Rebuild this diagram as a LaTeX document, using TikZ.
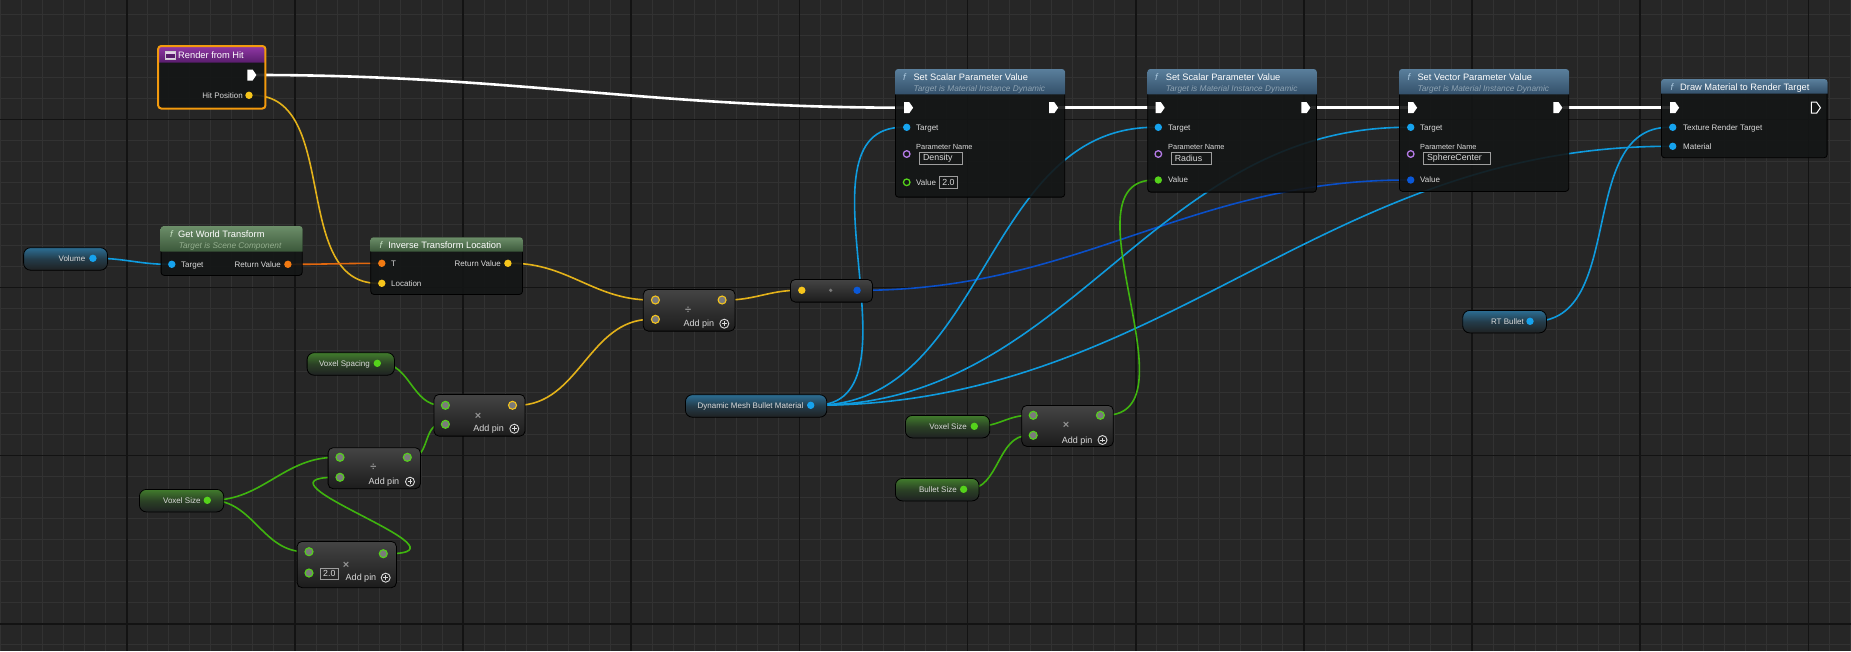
\documentclass[tikz,border=0pt]{standalone}
\usepackage{fontspec}
\setmainfont{Liberation Sans}
\usetikzlibrary{positioning,shapes.symbols}

\definecolor{canvas}{HTML}{262626}
\definecolor{gridminor}{HTML}{323232}
\definecolor{gridmajor}{HTML}{131313}
\definecolor{bodyfill}{HTML}{141616}
\definecolor{hdrbluetop}{HTML}{5A7F9C}
\definecolor{hdrbluebot}{HTML}{33506A}
\definecolor{hdrgreentop}{HTML}{6C8E69}
\definecolor{hdrgreenbot}{HTML}{3B583A}
\definecolor{hdrpurpletop}{HTML}{9138A6}
\definecolor{hdrpurplebot}{HTML}{581C6C}
\definecolor{selorange}{HTML}{F29A0E}
\definecolor{subblue}{HTML}{8EA3B3}
\definecolor{subgreen}{HTML}{93AE8E}
\definecolor{fnblue}{HTML}{A9C6DC}
\definecolor{fngreen}{HTML}{C2DCBE}
\definecolor{lblgray}{HTML}{DADADA}
\definecolor{pinobj}{HTML}{16A3EE}
\definecolor{pinvec}{HTML}{F6C51C}
\definecolor{pintrans}{HTML}{F27A12}
\definecolor{pinfloat}{HTML}{55D21B}
\definecolor{pinstruct}{HTML}{0A58D8}
\definecolor{pinname}{HTML}{B47AE6}
\definecolor{pingray}{HTML}{7B7B7B}
\definecolor{mathtop}{HTML}{444444}
\definecolor{mathbot}{HTML}{1C1C1C}
\definecolor{pillbase}{HTML}{1F2122}
\definecolor{glowblue}{HTML}{2C6E94}
\definecolor{glowgreen}{HTML}{417C2C}
\definecolor{wireobj}{HTML}{0F9BDE}
\definecolor{wirevec}{HTML}{E3B21A}
\definecolor{wiretrans}{HTML}{E3680E}
\definecolor{wirefloat}{HTML}{3FB40F}
\definecolor{wirestruct}{HTML}{0A4FC8}

\pgfdeclarelayer{gridlayer}
\pgfdeclarelayer{wirelayer}
\pgfsetlayers{gridlayer,wirelayer,main}

\tikzset{
  fnbody/.style={draw=black, line width=0.8pt, fill=bodyfill, fill opacity=0.9, rounded corners=3pt, anchor=north west, inner sep=0pt},
  hdrblue/.style={top color=hdrbluetop, bottom color=hdrbluebot},
  hdrgreen/.style={top color=hdrgreentop, bottom color=hdrgreenbot},
  hdrpurple/.style={top color=hdrpurpletop, bottom color=hdrpurplebot},
  ntitle/.style={font=\fontsize{9.3}{10}\selectfont, text=white, anchor=west, inner sep=0pt, text height=6.7pt, text depth=0pt},
  nsub/.style={font=\fontsize{8.3}{9}\selectfont\itshape, text=#1, anchor=west, inner sep=0pt, text height=6pt, text depth=0pt},
  fnicon/.style={font=\fontsize{9.5}{10}\selectfont\itshape, text=#1, inner sep=0pt},
  plbl/.style={font=\fontsize{8}{9}\selectfont, text=lblgray, inner sep=0pt, text height=5.8pt, text depth=0pt},
  ptiny/.style={font=\fontsize{7.4}{8}\selectfont, text=lblgray, inner sep=0pt, anchor=west, text height=5.3pt, text depth=0pt},
  namebox/.style={draw=white!62!black, line width=0.6pt, font=\fontsize{8.8}{9}\selectfont, text=lblgray, inner xsep=3.5pt, inner ysep=0pt, minimum height=11.6pt, anchor=west, text width=#1, align=left},
  valbox/.style={draw=white!62!black, line width=0.6pt, font=\fontsize{8.8}{9}\selectfont, text=lblgray, inner xsep=0pt, inner ysep=0pt, minimum height=11.6pt, minimum width=#1},
  varpill/.style={draw=black, line width=0.8pt, rounded corners=7pt, anchor=north west, inner sep=0pt, minimum height=22.5pt, top color=#1, bottom color=pillbase, middle color=pillbase!65!#1},
  mathbody/.style={draw=black, line width=0.8pt, rounded corners=5pt, anchor=north west, inner sep=0pt, top color=mathtop, bottom color=mathbot},
  datapin/.style={circle, fill=#1, inner sep=0pt, minimum size=7.4pt},
  openpin/.style={circle, draw=#1, line width=1.3pt, inner sep=0pt, minimum size=6.6pt},
  mathpin/.style={circle, fill=pingray, draw=#1, line width=1.1pt, inner sep=0pt, minimum size=8pt},
  execpin/.style={signal, signal to=east, signal pointer angle=110, fill=white, inner sep=0pt, minimum width=9pt, minimum height=11pt},
  execopen/.style={execpin, fill=none, draw=white, line width=1pt},
  opglyph/.style={font=\fontsize{11}{11}\selectfont\bfseries, text=white!58!black, inner sep=0pt},
  addlbl/.style={font=\fontsize{9}{10}\selectfont, text=lblgray, inner sep=0pt, text height=6.5pt, text depth=0pt},
  addicon/.style={circle, draw=lblgray, line width=0.9pt, inner sep=0pt, minimum size=9pt,
    path picture={\draw[lblgray, line width=0.8pt]
      ([xshift=-2.3pt]path picture bounding box.center) -- ([xshift=2.3pt]path picture bounding box.center)
      ([yshift=-2.3pt]path picture bounding box.center) -- ([yshift=2.3pt]path picture bounding box.center);}},
  wire/.style={line width=1.6pt, draw=#1},
  execwire/.style={line width=2.6pt, draw=white},
}

\begin{document}
\begin{tikzpicture}[x=1pt,y=-1pt]
  \useasboundingbox (0,0) rectangle (1851,651);

  % Griglia di sfondo
  \begin{pgfonlayer}{gridlayer}
    \fill[canvas] (0,0) rectangle (1851,651);
    \foreach \k in {0,...,88} \draw[gridminor, line width=0.9pt] ({0.68+21.02*\k},0) -- ({0.68+21.02*\k},651);
    \foreach \k in {0,...,30} \draw[gridminor, line width=0.9pt] (0,{14.2+21.02*\k}) -- (1851,{14.2+21.02*\k});
    \foreach \k in {1,...,11} \draw[gridmajor, line width=1.6pt] ({-41.35+168.15*\k},0) -- ({-41.35+168.15*\k},651);
    \foreach \k in {1,...,4} \draw[gridmajor, line width=1.6pt] (0,{-48.85+168.15*\k}) -- (1851,{-48.85+168.15*\k});
  \end{pgfonlayer}

  % Evento Render from Hit
  \node[fnbody, minimum width=106.4pt, minimum height=61.7pt] (rfh) at (158.2,46) {};
  \path[hdrpurple] ([yshift=-16.7pt]rfh.north west) [rounded corners=3pt] -- (rfh.north west) -- (rfh.north east) [sharp corners] -- ([yshift=-16.7pt]rfh.north east) -- cycle;
  \draw[selorange, line width=2pt, rounded corners=3pt] (rfh.north west) rectangle (rfh.south east);
  \draw[white!80!black, fill=white!75!hdrpurpletop, line width=0.5pt] (165,51) rectangle (175.7,59.3);
  \fill[hdrpurplebot] (166.2,53.6) rectangle (174.5,58.1);
  \node[ntitle] (rfh-title) at (178,55.3) {Render from Hit};
  \node[execpin] (rfh-exec) at (250,75) {};
  \node[datapin=pinvec] (rfh-hit) at (249,95.3) {};
  \node[plbl, anchor=east] (rfh-hit-l) at (243,95.3) {Hit Position};

  % Get World Transform
  \node[fnbody, minimum width=141.1pt, minimum height=49pt] (gwt) at (160.7,226) {};
  \path[hdrgreen] ([yshift=-25.7pt]gwt.north west) [rounded corners=3pt] -- (gwt.north west) -- (gwt.north east) [sharp corners] -- ([yshift=-25.7pt]gwt.north east) -- cycle;
  \node[fnicon=fngreen] (gwt-f) at (171.5,234) {f};
  \node[ntitle] (gwt-title) at (178,233.7) {Get World Transform};
  \node[nsub=subgreen] (gwt-sub) at (178.6,245.7) {Target is Scene Component};
  \node[datapin=pinobj] (gwt-target) at (171.8,264.3) {};
  \node[plbl, anchor=west] (gwt-target-l) at (181,264.3) {Target};
  \node[datapin=pintrans] (gwt-ret) at (287.9,264.3) {};
  \node[plbl, anchor=east] (gwt-ret-l) at (281,264.3) {Return Value};

  % Inverse Transform Location
  \node[fnbody, minimum width=151.7pt, minimum height=56.7pt] (itl) at (370.4,237.3) {};
  \path[hdrgreen] ([yshift=-14.4pt]itl.north west) [rounded corners=3pt] -- (itl.north west) -- (itl.north east) [sharp corners] -- ([yshift=-14.4pt]itl.north east) -- cycle;
  \node[fnicon=fngreen] (itl-f) at (381,245) {f};
  \node[ntitle] (itl-title) at (388.2,244.7) {Inverse Transform Location};
  \node[datapin=pintrans] (itl-t) at (381.8,263.3) {};
  \node[plbl, anchor=west] (itl-t-l) at (391,263.3) {T};
  \node[datapin=pinvec] (itl-loc) at (381.8,283.3) {};
  \node[plbl, anchor=west] (itl-loc-l) at (391,283.3) {Location};
  \node[datapin=pinvec] (itl-ret) at (507.9,263.3) {};
  \node[plbl, anchor=east] (itl-ret-l) at (501,263.3) {Return Value};

  % Set Scalar Parameter Value (Density)
  \node[fnbody, minimum width=169.3pt, minimum height=127.7pt] (ss1) at (895,69) {};
  \path[hdrblue] ([yshift=-25.3pt]ss1.north west) [rounded corners=3pt] -- (ss1.north west) -- (ss1.north east) [sharp corners] -- ([yshift=-25.3pt]ss1.north east) -- cycle;
  \node[fnicon=fnblue] (ss1-f) at (904.5,77) {f};
  \node[ntitle] (ss1-title) at (913.3,76.7) {Set Scalar Parameter Value};
  \node[nsub=subblue] (ss1-sub) at (913.3,88.7) {Target is Material Instance Dynamic};
  \node[execpin] (ss1-in) at (906.7,107.7) {};
  \node[execpin] (ss1-out) at (1051.7,107.7) {};
  \node[datapin=pinobj] (ss1-target) at (906.7,127.3) {};
  \node[plbl, anchor=west] (ss1-target-l) at (916,127.3) {Target};
  \node[ptiny] (ss1-pn-l) at (916,147.3) {Parameter Name};
  \node[openpin=pinname] (ss1-pn) at (906.7,154) {};
  \node[namebox=35.4pt] (ss1-pn-box) at (919.3,158.5) {Density};
  \node[openpin=pinfloat] (ss1-value) at (906.7,182.3) {};
  \node[plbl, anchor=west] (ss1-value-l) at (916,182.3) {Value};
  \node[valbox=18.4pt] (ss1-value-box) at (948.5,182.5) {2.0};

  % Set Scalar Parameter Value (Radius)
  \node[fnbody, minimum width=168.7pt, minimum height=122.7pt] (ss2) at (1147.3,69) {};
  \path[hdrblue] ([yshift=-25.3pt]ss2.north west) [rounded corners=3pt] -- (ss2.north west) -- (ss2.north east) [sharp corners] -- ([yshift=-25.3pt]ss2.north east) -- cycle;
  \node[fnicon=fnblue] (ss2-f) at (1156.5,77) {f};
  \node[ntitle] (ss2-title) at (1165.6,76.7) {Set Scalar Parameter Value};
  \node[nsub=subblue] (ss2-sub) at (1165.6,88.7) {Target is Material Instance Dynamic};
  \node[execpin] (ss2-in) at (1158.3,107.7) {};
  \node[execpin] (ss2-out) at (1304,107.7) {};
  \node[datapin=pinobj] (ss2-target) at (1158.3,127.3) {};
  \node[plbl, anchor=west] (ss2-target-l) at (1168,127.3) {Target};
  \node[ptiny] (ss2-pn-l) at (1168,147.3) {Parameter Name};
  \node[openpin=pinname] (ss2-pn) at (1158.3,154) {};
  \node[namebox=32.7pt] (ss2-pn-box) at (1171,158.5) {Radius};
  \node[datapin=pinfloat] (ss2-value) at (1158.3,180) {};
  \node[plbl, anchor=west] (ss2-value-l) at (1168,180) {Value};

  % Set Vector Parameter Value
  \node[fnbody, minimum width=169.3pt, minimum height=122pt] (sv) at (1399,69) {};
  \path[hdrblue] ([yshift=-25.3pt]sv.north west) [rounded corners=3pt] -- (sv.north west) -- (sv.north east) [sharp corners] -- ([yshift=-25.3pt]sv.north east) -- cycle;
  \node[fnicon=fnblue] (sv-f) at (1409,77) {f};
  \node[ntitle] (sv-title) at (1417.3,76.7) {Set Vector Parameter Value};
  \node[nsub=subblue] (sv-sub) at (1417.3,88.7) {Target is Material Instance Dynamic};
  \node[execpin] (sv-in) at (1410.7,107.7) {};
  \node[execpin] (sv-out) at (1556,107.7) {};
  \node[datapin=pinobj] (sv-target) at (1410.7,127.3) {};
  \node[plbl, anchor=west] (sv-target-l) at (1420,127.3) {Target};
  \node[ptiny] (sv-pn-l) at (1420,147.3) {Parameter Name};
  \node[openpin=pinname] (sv-pn) at (1410.7,154) {};
  \node[namebox=60pt] (sv-pn-box) at (1423.3,158.5) {SphereCenter};
  \node[datapin=pinstruct] (sv-value) at (1410.7,180) {};
  \node[plbl, anchor=west] (sv-value-l) at (1420,180) {Value};

  % Draw Material to Render Target
  \node[fnbody, minimum width=165.7pt, minimum height=78.3pt] (drw) at (1661,79) {};
  \path[hdrblue] ([yshift=-14.7pt]drw.north west) [rounded corners=3pt] -- (drw.north west) -- (drw.north east) [sharp corners] -- ([yshift=-14.7pt]drw.north east) -- cycle;
  \node[fnicon=fnblue] (drw-f) at (1672,87) {f};
  \node[ntitle] (drw-title) at (1680,86.7) {Draw Material to Render Target};
  \node[execpin] (drw-in) at (1672.7,107.7) {};
  \node[execopen] (drw-out) at (1814,107.7) {};
  \node[datapin=pinobj] (drw-trt) at (1672.7,127.3) {};
  \node[plbl, anchor=west] (drw-trt-l) at (1683,127.3) {Texture Render Target};
  \node[datapin=pinobj] (drw-mat) at (1672.7,146.3) {};
  \node[plbl, anchor=west] (drw-mat-l) at (1683,146.3) {Material};

  % Variabili
  \node[varpill=glowblue, minimum width=83.9pt] (vol) at (23.2,247.3) {};
  \node[datapin=pinobj] (vol-pin) at (92.9,258.3) {};
  \node[plbl, anchor=east] (vol-l) at (85.5,258.3) {Volume};
  \node[varpill=glowblue, minimum width=141.4pt] (dmbm) at (685,394.3) {};
  \node[datapin=pinobj] (dmbm-pin) at (810.7,405.3) {};
  \node[plbl, anchor=east] (dmbm-l) at (803.6,405.3) {Dynamic Mesh Bullet Material};
  \node[varpill=glowblue, minimum width=83.7pt] (rtb) at (1462.3,310) {};
  \node[datapin=pinobj] (rtb-pin) at (1530,321.3) {};
  \node[plbl, anchor=east] (rtb-l) at (1524,321.3) {RT Bullet};
  \node[varpill=glowgreen, minimum width=87.3pt] (vsp) at (306.7,352.3) {};
  \node[datapin=pinfloat] (vsp-pin) at (377.3,363.3) {};
  \node[plbl, anchor=east] (vsp-l) at (370,363.3) {Voxel Spacing};
  \node[varpill=glowgreen, minimum width=84.3pt] (vsl) at (139,489) {};
  \node[datapin=pinfloat] (vsl-pin) at (207.3,500.3) {};
  \node[plbl, anchor=east] (vsl-l) at (200.7,500.3) {Voxel Size};
  \node[varpill=glowgreen, minimum width=84.3pt] (vsr) at (905,415) {};
  \node[datapin=pinfloat] (vsr-pin) at (974.3,426.3) {};
  \node[plbl, anchor=east] (vsr-l) at (967,426.3) {Voxel Size};
  \node[varpill=glowgreen, minimum width=83.6pt] (bsz) at (895,478) {};
  \node[datapin=pinfloat] (bsz-pin) at (963.6,489.3) {};
  \node[plbl, anchor=east] (bsz-l) at (957,489.3) {Bullet Size};

  % Nodi matematici
  \node[mathbody, minimum width=91.7pt, minimum height=41.7pt] (divu) at (642.9,289) {};
  \node[mathpin=pinvec] (divu-in1) at (655.4,300) {};
  \node[mathpin=pinvec] (divu-in2) at (655.4,319.3) {};
  \node[mathpin=pinvec] (divu-out) at (722.1,300) {};
  \node[opglyph] (divu-op) at (688.2,310) {÷};
  \node[addlbl] (divu-add) at (698.9,323.7) {Add pin};
  \node[addicon] (divu-plus) at (724.3,323.7) {};

  \node[mathbody, minimum width=82.1pt, minimum height=22.7pt] (conv) at (790,279) {};
  \node[datapin=pinvec] (conv-in) at (801.8,290.3) {};
  \node[circle, fill=pingray, inner sep=0pt, minimum size=3.6pt] (conv-dot) at (830.7,290.3) {};
  \node[datapin=pinstruct] (conv-out) at (857.1,290.3) {};

  \node[mathbody, minimum width=91pt, minimum height=41.7pt] (mulu) at (433.6,394) {};
  \node[mathpin=pinfloat] (mulu-in1) at (445.4,405.3) {};
  \node[mathpin=pinfloat] (mulu-in2) at (445.4,424.3) {};
  \node[mathpin=pinvec] (mulu-out) at (512.5,405.3) {};
  \node[opglyph] (mulu-op) at (478.2,416) {×};
  \node[addlbl] (mulu-add) at (488.6,428.7) {Add pin};
  \node[addicon] (mulu-plus) at (514.3,428.7) {};

  \node[mathbody, minimum width=92.3pt, minimum height=41pt] (divl) at (327.7,447.3) {};
  \node[mathpin=pinfloat] (divl-in1) at (340,457.3) {};
  \node[mathpin=pinfloat] (divl-in2) at (340,477.3) {};
  \node[mathpin=pinfloat] (divl-out) at (407.3,457.3) {};
  \node[opglyph] (divl-op) at (373.3,467.3) {÷};
  \node[addlbl] (divl-add) at (384,481.7) {Add pin};
  \node[addicon] (divl-plus) at (410,481.7) {};

  \node[mathbody, minimum width=99.3pt, minimum height=46.3pt] (mull) at (296.7,541) {};
  \node[mathpin=pinfloat] (mull-in1) at (309,551.7) {};
  \node[mathpin=pinfloat] (mull-in2) at (309,573) {};
  \node[mathpin=pinfloat] (mull-out) at (383.3,553.7) {};
  \node[valbox=18pt] (mull-box) at (329.3,573.6) {2.0};
  \node[opglyph] (mull-op) at (346,565) {×};
  \node[addlbl] (mull-add) at (361,577.7) {Add pin};
  \node[addicon] (mull-plus) at (385.7,577.7) {};

  \node[mathbody, minimum width=91.5pt, minimum height=41pt] (mulr) at (1021.4,405) {};
  \node[mathpin=pinfloat] (mulr-in1) at (1033.2,415.3) {};
  \node[mathpin=pinfloat] (mulr-in2) at (1033.2,435.3) {};
  \node[mathpin=pinfloat] (mulr-out) at (1100.4,415.3) {};
  \node[opglyph] (mulr-op) at (1066.1,425.7) {×};
  \node[addlbl] (mulr-add) at (1077.1,440) {Add pin};
  \node[addicon] (mulr-plus) at (1102.5,440) {};

  % Collegamenti
  \begin{pgfonlayer}{wirelayer}
    \draw[execwire] (rfh-exec) to[out=0,in=180] (ss1-in);
    \draw[execwire] (ss1-out) to[out=0,in=180] (ss2-in);
    \draw[execwire] (ss2-out) to[out=0,in=180] (sv-in);
    \draw[execwire] (sv-out) to[out=0,in=180] (drw-in);

    \draw[wire=wirevec] (rfh-hit) to[out=0,in=180] (itl-loc);
    \draw[wire=wirevec] (itl-ret) to[out=0,in=180] (divu-in1);
    \draw[wire=wirevec] (mulu-out) to[out=0,in=180] (divu-in2);
    \draw[wire=wirevec] (divu-out) to[out=0,in=180] (conv-in);
    \draw[wire=wiretrans] (gwt-ret) to[out=0,in=180] (itl-t);
    \draw[wire=wirestruct] (conv-out) to[out=0,in=180] (sv-value);

    \draw[wire=wireobj] (vol-pin) to[out=0,in=180] (gwt-target);
    \foreach \t in {ss1-target,ss2-target,sv-target,drw-mat}
      \draw[wire=wireobj] (dmbm-pin) to[out=0,in=180] (\t);
    \draw[wire=wireobj] (rtb-pin) to[out=0,in=180] (drw-trt);

    \draw[wire=wirefloat] (vsp-pin) to[out=0,in=180] (mulu-in1);
    \draw[wire=wirefloat] (divl-out) to[out=0,in=180] (mulu-in2);
    \draw[wire=wirefloat] (vsl-pin) to[out=0,in=180] (divl-in1);
    \draw[wire=wirefloat] (vsl-pin) to[out=0,in=180] (mull-in1);
    \draw[wire=wirefloat] (mull-out) to[out=0,in=180,looseness=2.6] (divl-in2);
    \draw[wire=wirefloat] (vsr-pin) to[out=0,in=180] (mulr-in1);
    \draw[wire=wirefloat] (bsz-pin) to[out=0,in=180] (mulr-in2);
    \draw[wire=wirefloat] (mulr-out) to[out=0,in=180] (ss2-value);
  \end{pgfonlayer}
\end{tikzpicture}
\end{document}
